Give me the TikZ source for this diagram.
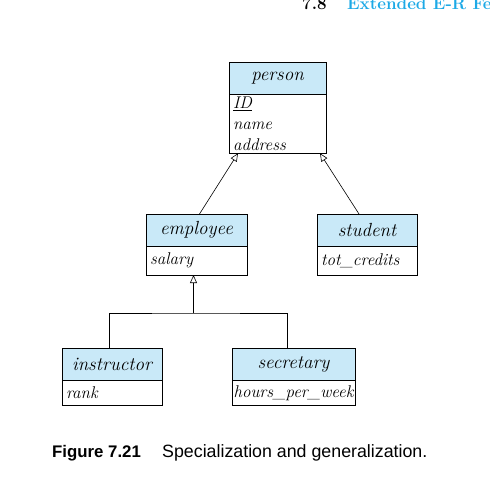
\documentclass[tikz,border=0pt]{standalone}
\usepackage{fontspec}
\newfontfamily\capfont{Liberation Sans}
\usetikzlibrary{arrows.meta,calc,positioning}

\definecolor{headblue}{HTML}{C9E9F8}
\definecolor{runblue}{HTML}{1CA9E6}

\begin{document}
\begin{tikzpicture}[x=1pt,y=-1pt,
    ehead/.style={draw, fill=headblue, minimum height=32pt, inner sep=0pt, outer sep=0pt, font=\fontsize{19}{21}\selectfont\itshape},
    eattr/.style={draw, fill=white, inner xsep=4pt, inner ysep=2.5pt, outer sep=0pt, align=left, font=\fontsize{17}{21}\selectfont\itshape},
    isa/.style={-{Triangle[open,length=8pt,width=7pt]}, line width=0.6pt},
    link/.style={line width=0.6pt}]
  \clip (0,0) rectangle (490,480);
  % running head
  \node[anchor=base west, inner sep=0pt, font=\fontsize{17}{19}\selectfont\bfseries] (secno) at (302,9) {7.8};
  \node[anchor=base west, inner sep=0pt, text=runblue, font=\fontsize{17}{19}\selectfont\bfseries] (sectitle) at (347,9) {Extended E-R Features};
  % entity helper: name, x, y, width, title
  \newcommand{\ent}[5]{\node[ehead, minimum width=#4pt] (#1) at (#2,#3) {#5};}
  \ent{person}{277.5}{78.5}{97}{person}
  \ent{employee}{196.5}{230}{101}{employee}
  \ent{student}{367}{230}{100}{student}
  \ent{instructor}{112}{364.5}{100}{instructor}
  \ent{secretary}{293.5}{364.5}{123}{secretary}
  % attributes
  \node[eattr, text width=89pt, below=0pt of person] (persona) {\underline{ID}\\name\\address};
  \node[eattr, text width=93pt, below=0pt of employee, minimum height=29pt] (employeea) {salary};
  \node[eattr, text width=92pt, below=0pt of student, minimum height=29pt] (studenta) {tot\_credits};
  \node[eattr, text width=92pt, below=0pt of instructor, minimum height=25pt] (instructora) {rank};
  \node[eattr, text width=120pt, below=0pt of secretary, minimum height=25pt, inner xsep=1.5pt] (secretarya) {hours\_per\_week};
  % isa links
  \draw[isa] ($(employee.north)+(3,0)$) -- ($(persona.south west)+(9,0)$);
  \draw[isa] ($(student.north)+(-8,0)$) -- ($(persona.south east)+(-6,0)$);
  \coordinate (fork) at ($(employeea.south)+(-3,38)$);
  \draw[isa] (fork) -- (fork |- employeea.south);
  \draw[link] ($(instructor.north)+(-3,0)$) |- (fork) -| ($(secretary.north)+(-6,0)$);
  % caption
  \node[anchor=base west, inner sep=0pt, font=\capfont\fontsize{16.8}{19}\selectfont\bfseries] (fignum) at (52,457) {Figure 7.21};
  \node[anchor=base west, inner sep=0pt, font=\capfont\fontsize{17.8}{20}\selectfont] (figtext) at (162,457) {Specialization and generalization.};
\end{tikzpicture}
\end{document}
